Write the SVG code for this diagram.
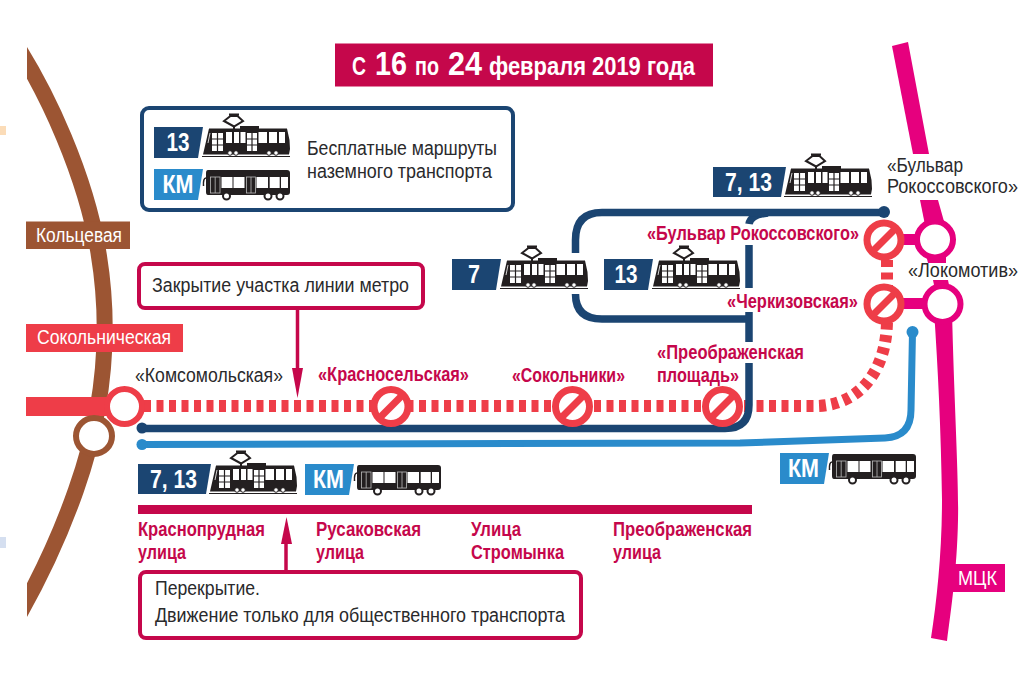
<svg xmlns="http://www.w3.org/2000/svg" width="1035" height="693" viewBox="0 0 1035 693">
<style>
text{font-family:"Liberation Sans Narrow","Liberation Sans",Arial,sans-serif}
.n{font-size:20px;fill:#2a2a2c}
.s{font-size:20px;font-weight:700;fill:#c5074b}
.w{font-size:20px;fill:#fff}
.b{font-size:25px;font-weight:700;fill:#fff}
.db{fill:#1b4572}.lb{fill:#2a8bcb}
.dk{fill:none;stroke:#1b4572;stroke-width:7.5;stroke-linecap:butt}
.lk{fill:none;stroke:#2a8bcb;stroke-width:7}
.rd{fill:none;stroke:#ee3d48;stroke-width:12;stroke-dasharray:7 5.5}
.box{fill:#fff;stroke:#c5074b;stroke-width:4}
.ar{stroke:#c5074b;stroke-width:3.5;fill:none}
.ac{fill:#c5074b}
.pk{fill:#e6007e}
.ring{fill:#fff;stroke-width:6}
.no{fill:#fff;stroke:#ee3d48;stroke-width:7}
.sl{stroke:#ee3d48;stroke-width:7}
</style>
<defs>
<clipPath id="cl"><rect x="27" y="0" width="200" height="693"/></clipPath>
<symbol id="tram" width="89" height="45" viewBox="0 0 89 45" overflow="visible">
<polygon points="7,15.5 38,15.5 38,13 57,13 57,15.5 85,15.5 87.5,27 88,36 87,41.5 1,41.5" fill="#231f20"/>
<path d="M27,1.5H37M32,13.5V16M22,8L32,13.5L41,8L35.5,3H28.5Z" fill="none" stroke="#231f20" stroke-width="2"/>
<rect x="0" y="43" width="88" height="1" fill="#231f20"/>
<g fill="#fff"><rect x="24" y="19" width="6" height="11"/><rect x="32" y="19" width="5" height="11"/><rect x="38.5" y="19" width="5" height="11"/><rect x="56.5" y="19" width="8.5" height="11"/><rect x="67" y="19" width="8" height="11"/><rect x="77" y="19" width="6" height="11"/><rect x="10" y="20" width="11" height="18"/><rect x="45" y="20" width="10" height="18"/></g>
<path d="M10,26H21M10,32H21M15.5,20V38M45,26H55M45,32H55M50,20V38" stroke="#231f20" stroke-width="1.2" fill="none"/>
<path d="M8,20L6,30" stroke="#fff" stroke-width=".8"/>
<g fill="#fff" stroke="#231f20" stroke-width="1"><circle cx="28" cy="40" r="2.3"/><circle cx="34" cy="40" r="2.3"/><circle cx="67" cy="40" r="2.3"/><circle cx="74" cy="40" r="2.3"/></g>
</symbol>
<symbol id="bus" width="88" height="32" viewBox="0 0 88 32" overflow="visible">
<path d="M5,1H84Q87,1 87,4V23Q87,26 84,26H5Q3,26 3,23V4Q3,1 5,1Z" fill="#231f20"/>
<path d="M3,9Q0,9 .5,17" stroke="#231f20" stroke-width="1.5" fill="none"/>
<g fill="#fff"><rect x="18.5" y="8" width="11" height="11"/><rect x="30.5" y="8" width="11" height="11"/><rect x="53.5" y="8" width="11.5" height="11"/><rect x="66.7" y="8" width="10" height="11"/><rect x="78" y="8" width="7" height="11"/></g>
<g fill="none" stroke="#bbb" stroke-width=".8"><rect x="7.5" y="8" width="9.5" height="16"/><rect x="43.5" y="8" width="9" height="16"/><path d="M12.2,8V24M48,8V24"/></g>
<g fill="#fff" stroke="#231f20" stroke-width="2"><circle cx="23.5" cy="27" r="3.5"/><circle cx="65" cy="27" r="3.5"/><circle cx="77" cy="27" r="3.5"/></g>
</symbol>
<polygon id="bdg" points="0,0 49,0 44,31 0,31"/>
<polygon id="bdw" points="0,0 73,0 68,30 0,30"/>
</defs>
<rect width="1035" height="693" fill="#fff"/>
<rect x="0" y="126" width="6" height="9" fill="#fbdcb8"/>
<rect x="0" y="537" width="6" height="11" fill="#d5dff0"/>

<g id="connectors">
<path id="koltsevaya-line" d="M5,28C50,93 86,180 98,250C110,320 108,400 76,490C62,530 42,575 15,622" fill="none" stroke="#9c5533" stroke-width="16" clip-path="url(#cl)"/>
<rect x="26" y="397" width="90" height="19" fill="#ee3d48"/>
<path class="rd" d="M144,406H815C860,406 887,370 887,320V240"/>
<path class="dk" d="M142,428.5H725Q749,428.5 749,405V363"/>
<path class="dk" d="M749,342V312"/>
<path class="dk" d="M749,288V245"/>
<path class="dk" d="M749,224C750,218 756,214 768,213"/>
<path class="dk" d="M884,212.5H602Q575.5,212.5 575.5,240V253"/>
<path class="dk" d="M575.5,294Q575.5,319 602,319H749"/>
<path class="lk" d="M142,444.5L740,443L885,438C905,437 911,425 911,410L912.5,332"/>
<circle class="db" cx="142" cy="428" r="5.5"/>
<circle class="lb" cx="142" cy="444.5" r="5.5"/>
<circle class="db" cx="884" cy="212" r="6"/>
<circle class="lb" cx="912.5" cy="332" r="6"/>
<path id="mck-line" class="pk" d="M892,46L908,42L929,154H913Z"/>
<path class="pk" d="M920,200H938L945,225H925Z"/>
<path class="pk" d="M926,255H946V263H928Z"/>
<path class="pk" d="M933,280H948L950,290H935Z"/>
<path class="pk" d="M934,310L952,310C954,400 959,480 958,520C957,570 951,610 947,641L931,638C937,600 942,550 942,500C941,430 938,370 934,310Z"/>
<rect class="pk" x="900" y="234" width="20" height="11"/>
<rect class="pk" x="900" y="298" width="27" height="11"/>
<path class="ar" d="M297.5,310V372"/>
<polygon class="ac" points="292,368 303,368 297.5,398"/>
<path class="ar" d="M286,570V540"/>
<polygon class="ac" points="281,544 292,544 286.5,517"/>
</g>

<g id="station-komsomolskaya-k"><circle class="ring" cx="94" cy="436" r="18" stroke="#9c5533"/></g>
<g id="station-komsomolskaya"><circle class="ring" cx="124.5" cy="406.5" r="17.5" stroke="#ee3d48"/><text class="n" x="135" y="382" textLength="148" lengthAdjust="spacingAndGlyphs">«Комсомольская»</text></g>
<g id="station-krasnoselskaya"><circle class="no" cx="391" cy="406.5" r="17"/><path class="sl" d="M379,418.5L403,394.5"/><text class="s" x="318" y="381" textLength="151" lengthAdjust="spacingAndGlyphs">«Красносельская»</text></g>
<g id="station-sokolniki"><circle class="no" cx="572.5" cy="406.5" r="17"/><path class="sl" d="M560.5,418.5L584.5,394.5"/><text class="s" x="512" y="382" textLength="113" lengthAdjust="spacingAndGlyphs">«Сокольники»</text></g>
<g id="station-preobrazhenskaya"><circle class="no" cx="722.5" cy="406.5" r="17"/><path class="sl" d="M710.5,418.5L734.5,394.5"/><text class="s" x="657" y="359" textLength="147" lengthAdjust="spacingAndGlyphs">«Преображенская</text><text class="s" x="657" y="382" textLength="82" lengthAdjust="spacingAndGlyphs">площадь»</text></g>
<g id="station-bulvar"><circle class="no" cx="884" cy="240" r="17"/><path class="sl" d="M872,252L896,228"/><text class="s" x="647" y="240" textLength="212" lengthAdjust="spacingAndGlyphs">«Бульвар Рокоссовского»</text></g>
<g id="station-cherkizovskaya"><circle class="no" cx="884" cy="304" r="17"/><path class="sl" d="M872,316L896,292"/><text class="s" x="727" y="308" textLength="131" lengthAdjust="spacingAndGlyphs">«Черкизовская»</text></g>
<g id="station-mck-bulvar"><circle class="ring" cx="935" cy="239.5" r="18" stroke="#e6007e"/><text class="n" x="887" y="172" textLength="76" lengthAdjust="spacingAndGlyphs">«Бульвар</text><text class="n" x="887" y="193" textLength="131" lengthAdjust="spacingAndGlyphs">Рокоссовского»</text></g>
<g id="station-mck-lokomotiv"><circle class="ring" cx="942.5" cy="304" r="18" stroke="#e6007e"/><text class="n" x="908" y="277" textLength="110" lengthAdjust="spacingAndGlyphs">«Локомотив»</text></g>

<g id="label-koltsevaya"><rect x="26" y="221.5" width="104" height="27.5" fill="#9c5533"/><text class="w" x="36" y="242" textLength="86" lengthAdjust="spacingAndGlyphs">Кольцевая</text></g>
<g id="label-sokolnicheskaya"><rect x="26" y="324" width="157" height="28" fill="#ee3d48"/><text class="w" x="37" y="343.500" textLength="134" lengthAdjust="spacingAndGlyphs">Сокольническая</text></g>
<g id="label-mck"><rect class="pk" x="950" y="564" width="55" height="28"/><text class="w" x="958" y="585" textLength="39" lengthAdjust="spacingAndGlyphs">МЦК</text></g>

<g id="title"><rect x="335" y="43.5" width="378" height="43" fill="#c5074b"/>
<g fill="#fff"><text x="352" y="75" font-size="25" font-weight="700" textLength="14" lengthAdjust="spacingAndGlyphs">С</text><text x="375" y="75" font-size="34" font-weight="700" textLength="32" lengthAdjust="spacingAndGlyphs">16</text><text x="415" y="75" font-size="25" font-weight="700" textLength="24" lengthAdjust="spacingAndGlyphs">по</text><text x="448" y="75" font-size="34" font-weight="700" textLength="34" lengthAdjust="spacingAndGlyphs">24</text><text x="489" y="75" font-size="25" font-weight="700" textLength="206" lengthAdjust="spacingAndGlyphs">февраля 2019 года</text></g></g>

<g id="legend"><rect x="142" y="108" width="371" height="102" rx="7" fill="#fff" stroke="#1b4572" stroke-width="4"/>
<use href="#bdg" x="154" y="127" class="db"/><text class="b" x="166.500" y="151" textLength="23" lengthAdjust="spacingAndGlyphs">13</text><use href="#tram" x="202" y="113"/>
<use href="#bdg" x="154" y="169" class="lb"/><text class="b" x="162.500" y="193" textLength="31" lengthAdjust="spacingAndGlyphs">КМ</text><use href="#bus" x="203" y="169"/>
<text class="n" x="307" y="155" textLength="190" lengthAdjust="spacingAndGlyphs">Бесплатные маршруты</text><text class="n" x="307" y="178" textLength="185" lengthAdjust="spacingAndGlyphs">наземного транспорта</text></g>

<g id="callout-closure"><rect class="box" x="139" y="264" width="284" height="44" rx="6"/><text class="n" x="152" y="292" textLength="257" lengthAdjust="spacingAndGlyphs">Закрытие участка линии метро</text></g>

<g id="route-top"><use href="#bdw" x="713" y="167" class="db"/><text class="b" x="725" y="191" textLength="47" lengthAdjust="spacingAndGlyphs">7, 13</text><use href="#tram" x="784" y="153"/></g>
<g id="route-7"><use href="#bdg" x="452" y="259" class="db"/><text class="b" x="468" y="283" textLength="12" lengthAdjust="spacingAndGlyphs">7</text><use href="#tram" x="500" y="245"/></g>
<g id="route-13"><use href="#bdg" x="604" y="259" class="db"/><text class="b" x="614.500" y="283" textLength="23" lengthAdjust="spacingAndGlyphs">13</text><use href="#tram" x="652" y="245"/></g>
<g id="route-bottom-tram"><use href="#bdw" x="138" y="464" class="db"/><text class="b" x="150" y="488" textLength="47" lengthAdjust="spacingAndGlyphs">7, 13</text><use href="#tram" x="209" y="450"/></g>
<g id="route-bottom-bus"><use href="#bdg" x="305" y="464" class="lb"/><text class="b" x="313" y="488" textLength="31" lengthAdjust="spacingAndGlyphs">КМ</text><use href="#bus" x="354" y="464"/></g>
<g id="route-right-bus"><use href="#bdg" x="780" y="453" class="lb"/><text class="b" x="788" y="477" textLength="31" lengthAdjust="spacingAndGlyphs">КМ</text><use href="#bus" x="829" y="453"/></g>

<g id="road"><rect x="138" y="505" width="614" height="9" fill="#c5074b"/>
<text class="s" x="138" y="536" textLength="127" lengthAdjust="spacingAndGlyphs">Краснопрудная</text><text class="s" x="138" y="559" textLength="48" lengthAdjust="spacingAndGlyphs">улица</text>
<text class="s" x="316" y="536" textLength="105" lengthAdjust="spacingAndGlyphs">Русаковская</text><text class="s" x="316" y="559" textLength="48" lengthAdjust="spacingAndGlyphs">улица</text>
<text class="s" x="471" y="536" textLength="50" lengthAdjust="spacingAndGlyphs">Улица</text><text class="s" x="471" y="559" textLength="93" lengthAdjust="spacingAndGlyphs">Стромынка</text>
<text class="s" x="613" y="536" textLength="139" lengthAdjust="spacingAndGlyphs">Преображенская</text><text class="s" x="613" y="559" textLength="48" lengthAdjust="spacingAndGlyphs">улица</text></g>

<g id="callout-road"><rect class="box" x="140" y="572" width="441" height="66" rx="6"/><text class="n" x="155" y="595" textLength="105" lengthAdjust="spacingAndGlyphs">Перекрытие.</text><text class="n" x="155" y="622" textLength="410" lengthAdjust="spacingAndGlyphs">Движение только для общественного транспорта</text></g>
</svg>
